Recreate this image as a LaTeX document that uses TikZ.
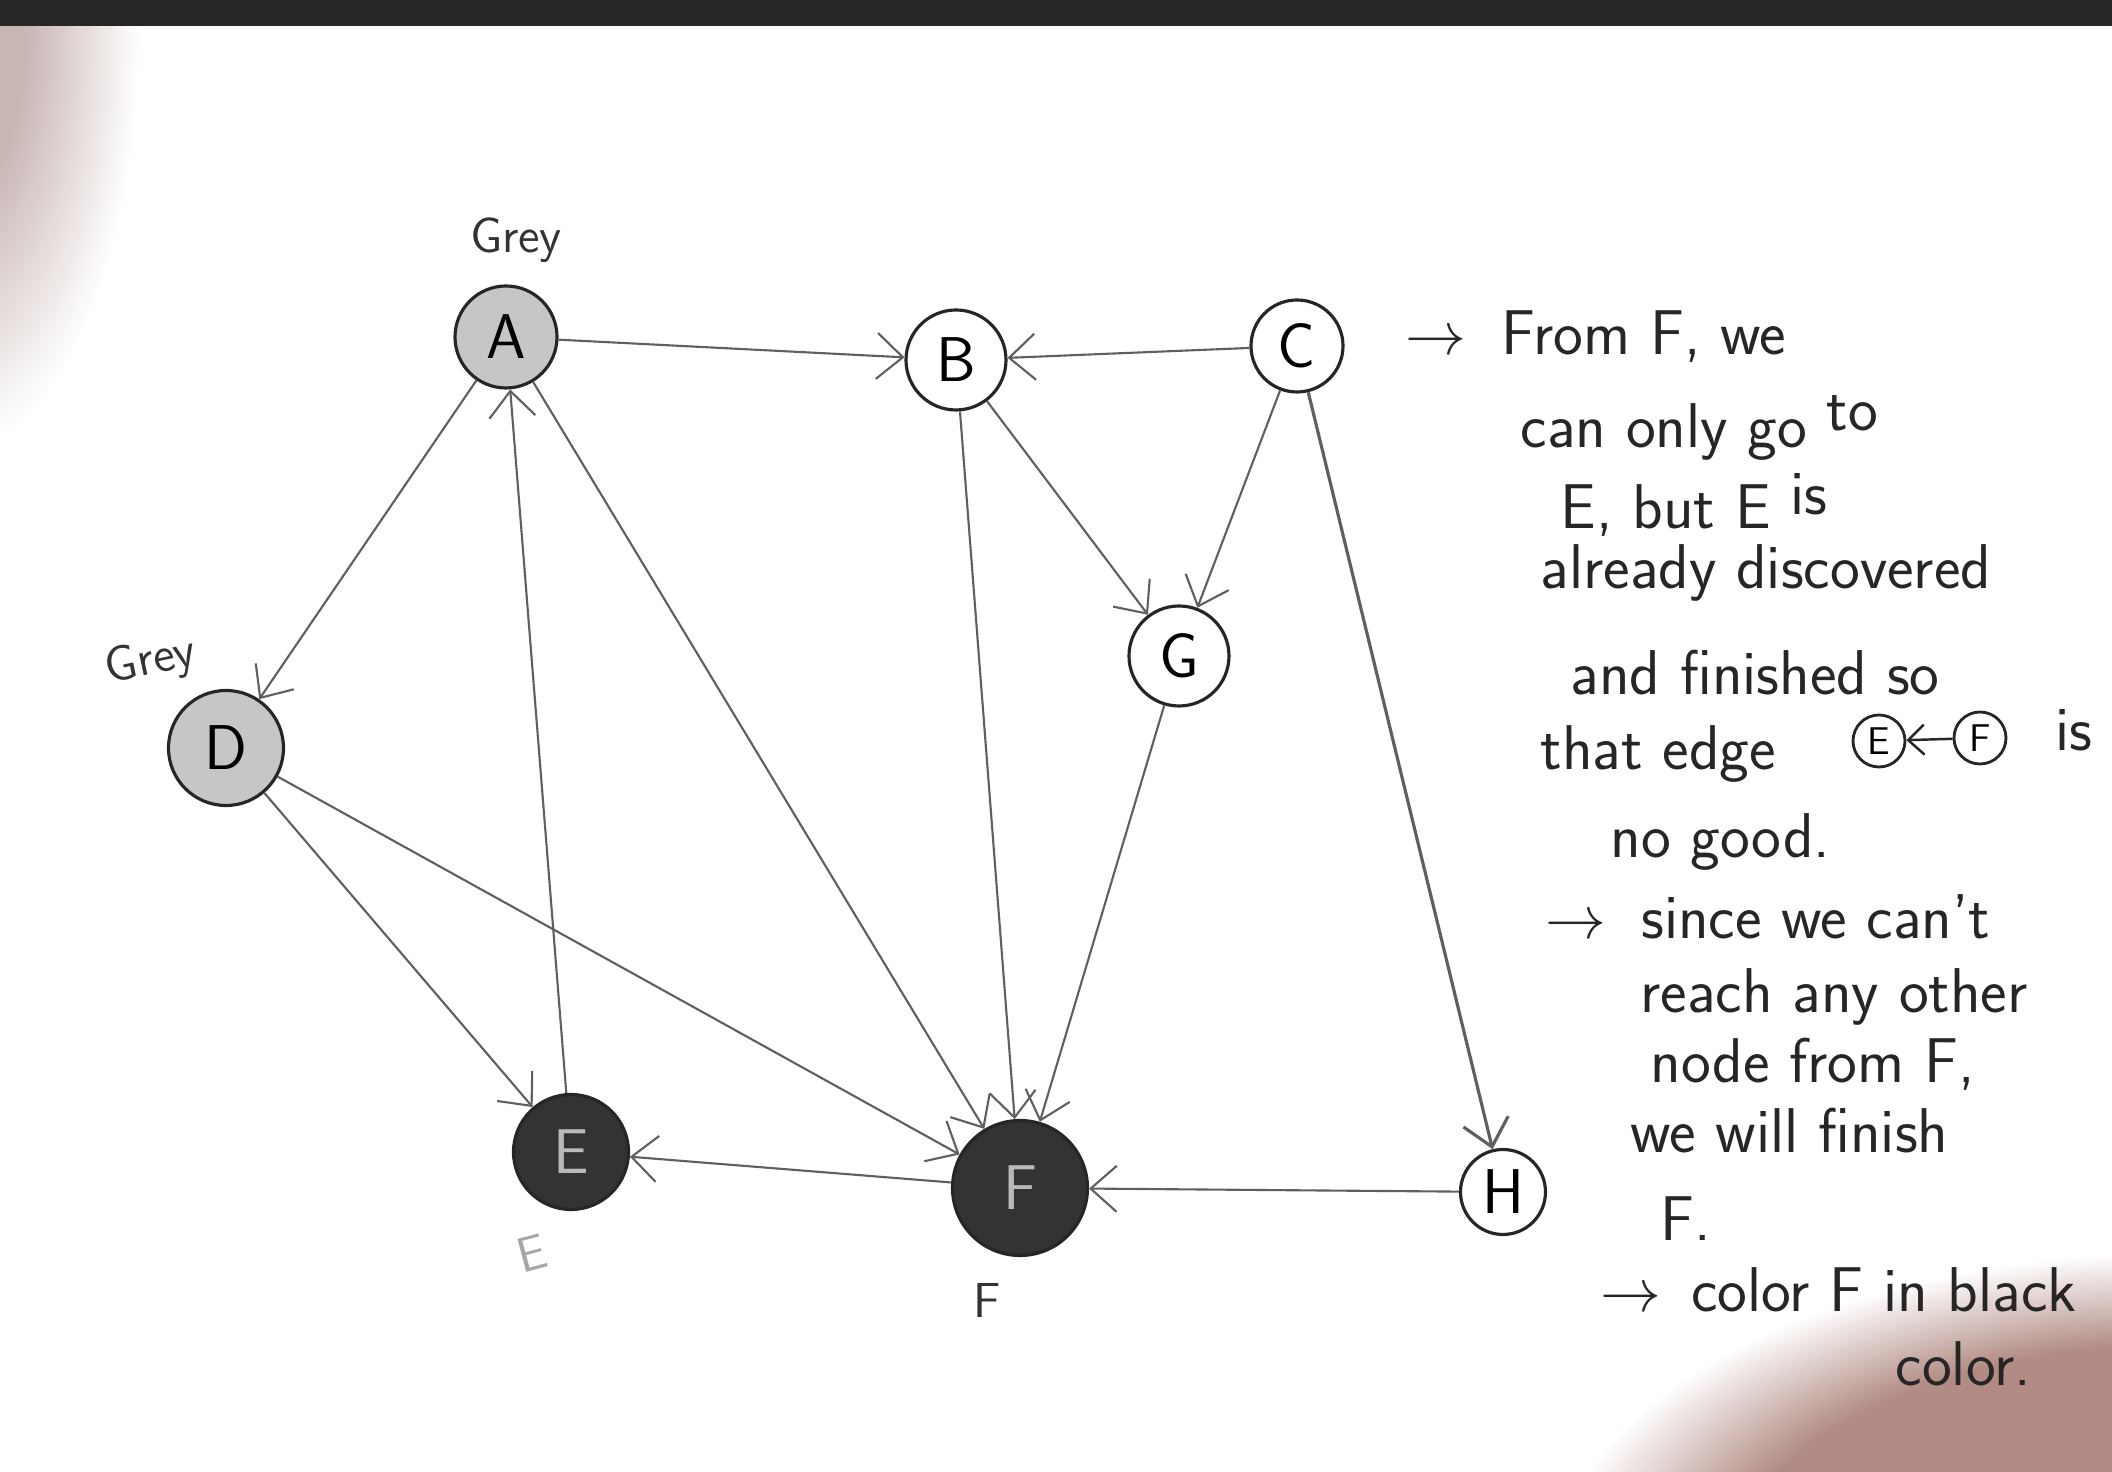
\documentclass[tikz,border=0pt]{standalone}
\usepackage{tikz}
\usetikzlibrary{arrows.meta,positioning}
\definecolor{shadowpink}{RGB}{178,140,132}
\definecolor{shadowgrey}{RGB}{200,182,180}
\definecolor{pencil}{RGB}{95,95,95}
\pgfdeclareradialshading{pinkshadow}{\pgfpoint{0bp}{0bp}}{color(0bp)=(shadowpink); color(18bp)=(shadowpink); color(25bp)=(white); color(50bp)=(white)}
\pgfdeclareradialshading{greyshadow}{\pgfpoint{0bp}{0bp}}{color(0bp)=(shadowgrey); color(10bp)=(shadowgrey); color(25bp)=(white); color(50bp)=(white)}

\tikzset{
  vertex/.style={draw=black!85, circle, line width=0.9pt, minimum size=1cm, inner sep=0pt, font=\fontsize{18}{20}\selectfont\sffamily},
  greyvertex/.style={vertex, fill=gray!45},
  blackvertex/.style={vertex, fill=black!80, text=gray!55},
  edge/.style={draw=pencil, line width=0.6pt, -{Straight Barb[length=2.6mm,width=4.6mm]}},
  note/.style={anchor=west, inner sep=0pt, text=black!85, font=\fontsize{18}{21}\selectfont\sffamily},
  tag/.style={text=black!80, font=\fontsize{14}{16}\selectfont\sffamily},
  smallvertex/.style={draw=black!85, circle, line width=0.8pt, minimum size=0.52cm, inner sep=0pt, font=\fontsize{11}{12}\selectfont\sffamily}
}

\begin{document}
\begin{tikzpicture}
\useasboundingbox (0,0) rectangle (21.12,14.72);
\fill[white] (0,0) rectangle (21.12,14.72);
% photo edges
\shade[shading=pinkshadow] (21.8,-1.1) ellipse (6.3cm and 3.3cm);
\shade[shading=greyshadow] (-0.5,14.4) ellipse (1.9cm and 4.2cm);
\fill[black!85] (0,14.46) rectangle (21.12,14.72);

% vertices
\node[greyvertex, minimum size=1.02cm] (A) at (5.06,11.35) {A};
\node[vertex] (B) at (9.56,11.12) {B};
\node[vertex, minimum size=0.92cm] (C) at (12.97,11.26) {C};
\node[vertex] (G) at (11.79,8.16) {G};
\node[greyvertex, minimum size=1.15cm] (D) at (2.26,7.24) {D};
\node[blackvertex, minimum size=1.15cm] (E) at (5.71,3.20) {E};
\node[blackvertex, minimum size=1.35cm] (F) at (10.20,2.84) {F};
\node[vertex, minimum size=0.85cm] (H) at (15.03,2.80) {H};

\node[tag] (greyA) at (5.16,12.32) {Grey};
\node[tag, rotate=12] (greyD) at (1.51,8.10) {Grey};
\node[tag, text=gray!70, rotate=15] (tagE) at (5.32,2.19) {E};
\node[tag] (tagF) at (9.87,1.72) {F};

% edges
\draw[edge] (A) -- (B);
\draw[edge] (C) -- (B);
\draw[edge] (A) -- (D);
\draw[edge] (A) -- (F);
\draw[edge] (E) -- (A);
\draw[edge] (B) -- (G);
\draw[edge] (B) -- (F);
\draw[edge] (C) -- (G);
\draw[edge] (G) -- (F);
\draw[edge, line width=0.9pt] (C) -- (H);
\draw[edge] (D) -- (E);
\draw[edge] (D) -- (F);
\draw[edge] (F) -- (E);
\draw[edge] (H) -- (F);

% notes
\node[note] (n1) at (14.05,11.35) {$\rightarrow$\hspace{0.35cm}From F, we};
\node[note] (n2) at (15.20,10.44) {can only go \raisebox{0.6ex}{to}};
\node[note] (n3) at (15.60,9.67) {E, but E \raisebox{0.5ex}{is}};
\node[note] (n4) at (15.40,8.99) {already discovered};
\node[note] (n5) at (15.70,7.99) {and finished so};
\node[note] (n6) at (15.40,7.18) {that edge};
\node[smallvertex] (noteE) at (18.79,7.31) {E};
\node[smallvertex] (noteF) at (19.80,7.34) {F};
\draw[draw=black!85, line width=0.7pt, -{Straight Barb[length=1.6mm,width=3mm]}] (noteF) -- (noteE);
\node[note] (n6b) at (20.55,7.42) {is};
\node[note] (n7) at (16.10,6.30) {no good.};
\node[note] (n8) at (15.45,5.55) {$\rightarrow$\hspace{0.35cm}since we can't};
\node[note] (n9) at (16.40,4.75) {reach any other};
\node[note] (n10) at (16.50,4.08) {node from F,};
\node[note] (n11) at (16.30,3.41) {we will finish};
\node[note] (n12) at (16.60,2.53) {F.};
\node[note] (n13) at (16.00,1.82) {$\rightarrow$\hspace{0.3cm}color F in black};
\node[note] (n14) at (18.95,1.08) {color.};
\end{tikzpicture}
\end{document}
